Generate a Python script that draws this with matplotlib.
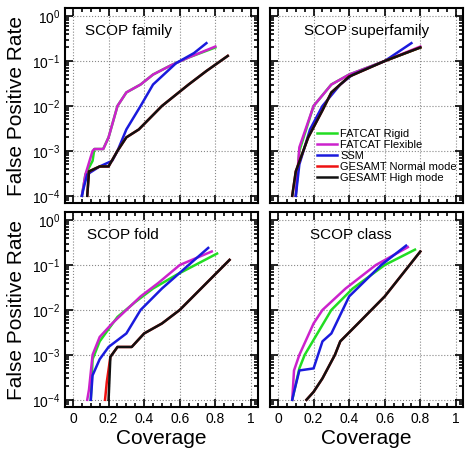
import matplotlib
matplotlib.use("Agg")
import matplotlib.pyplot as plt
from matplotlib.ticker import MultipleLocator, LogLocator, NullFormatter, FixedLocator, FuncFormatter

plt.rcParams['font.family'] = ['Liberation Sans', 'DejaVu Sans']

series_names = ["FATCAT Rigid", "FATCAT Flexible", "SSM", "GESAMT Normal mode", "GESAMT High mode"]
series_colors = ["#22dd22", "#cc22cc", "#1a1add", "#ee1111", "#111111"]
panel_titles = ["SCOP family", "SCOP superfamily", "SCOP fold", "SCOP class"]
x_ticks = [0, 0.2, 0.4, 0.6, 0.8, 1]
x_tick_labels = ['0', '0.2', '0.4', '0.6', '0.8', '1']

family = [
    ([0.05,0.07,0.11,0.12,0.17,0.2,0.25,0.3,0.38,0.45,0.55,0.65,0.8],[1e-4,3e-4,6e-4,1.1e-3,1.1e-3,2e-3,1e-2,2e-2,3e-2,5e-2,8e-2,0.12,0.2]),
    ([0.05,0.07,0.11,0.12,0.17,0.2,0.25,0.3,0.38,0.45,0.55,0.65,0.8],[1e-4,3e-4,1e-3,1.1e-3,1.1e-3,2e-3,1e-2,2e-2,3e-2,5e-2,8e-2,0.12,0.21]),
    ([0.05,0.06,0.08,0.15,0.22,0.25,0.3,0.38,0.45,0.58,0.68,0.75],[1e-4,1.5e-4,3e-4,4.5e-4,6e-4,1e-3,3e-3,1e-2,3e-2,9e-2,0.15,0.25]),
    ([0.08,0.09,0.15,0.2,0.25,0.3,0.37,0.5,0.65,0.75,0.87],[1e-4,3.5e-4,4.5e-4,4.5e-4,1e-3,2e-3,3e-3,1e-2,3e-2,6e-2,0.13]),
    ([0.08,0.09,0.15,0.2,0.25,0.3,0.37,0.5,0.65,0.75,0.87],[1e-4,3.5e-4,4.5e-4,4.5e-4,1e-3,2e-3,3e-3,1e-2,3e-2,6e-2,0.13]),
]
superfamily = [
    ([0.1,0.12,0.2,0.3,0.4,0.6,0.8],[1e-4,1e-3,1e-2,3e-2,5e-2,0.1,0.2]),
    ([0.1,0.12,0.2,0.3,0.4,0.6,0.8],[1e-4,1.2e-3,1e-2,3e-2,5e-2,0.1,0.21]),
    ([0.1,0.12,0.18,0.25,0.35,0.42,0.6,0.75],[1e-4,5e-4,3e-3,1e-2,3e-2,5e-2,0.1,0.25]),
    ([0.08,0.1,0.17,0.25,0.3,0.4,0.6,0.8],[1e-4,3.5e-4,2e-3,8e-3,2e-2,4.5e-2,0.1,0.2]),
    ([0.08,0.1,0.17,0.25,0.3,0.4,0.6,0.8],[1e-4,3.5e-4,2e-3,8e-3,2e-2,4.5e-2,0.1,0.2]),
]
fold = [
    ([0.1,0.11,0.15,0.25,0.35,0.45,0.58,0.81],[1e-4,8e-4,2e-3,7e-3,1.5e-2,3e-2,6e-2,0.18]),
    ([0.08,0.09,0.11,0.15,0.22,0.3,0.38,0.48,0.6,0.78],[1e-4,1.7e-4,1e-3,2.5e-3,5e-3,1e-2,2e-2,4e-2,0.1,0.2]),
    ([0.1,0.11,0.15,0.2,0.3,0.38,0.5,0.65,0.76],[1e-4,3.5e-4,8e-4,1.5e-3,3e-3,1e-2,3e-2,0.1,0.24]),
    ([0.18,0.19,0.21,0.25,0.33,0.4,0.5,0.6,0.72,0.88],[1e-4,2.5e-4,9e-4,1.5e-3,1.5e-3,3e-3,5e-3,1e-2,3e-2,0.13]),
    ([0.2,0.21,0.25,0.33,0.4,0.5,0.6,0.72,0.88],[1e-4,9e-4,1.5e-3,1.5e-3,3e-3,5e-3,1e-2,3e-2,0.13]),
]
klass = [
    ([0.08,0.12,0.15,0.3,0.42,0.6,0.77],[1e-4,5e-4,1e-3,1e-2,3e-2,0.1,0.22]),
    ([0.08,0.09,0.12,0.2,0.25,0.38,0.55,0.73],[1e-4,4.5e-4,1e-3,5e-3,1e-2,3e-2,0.1,0.25]),
    ([0.08,0.09,0.12,0.2,0.25,0.3,0.4,0.58,0.72],[1e-4,1.5e-4,4.5e-4,5e-4,2e-3,3e-3,2e-2,0.1,0.27]),
    ([0.16,0.2,0.25,0.32,0.35,0.45,0.6,0.8],[1e-4,1.5e-4,3e-4,1e-3,2e-3,5e-3,2e-2,0.2]),
    ([0.16,0.2,0.25,0.32,0.35,0.45,0.6,0.8],[1e-4,1.5e-4,3e-4,1e-3,2e-3,5e-3,2e-2,0.2]),
]
panels = [family, superfamily, fold, klass]

fig = plt.figure(figsize=(4.74, 4.58), dpi=100)
W, H = 474, 458
boxes = [(65, 8), (270, 8), (65, 212), (270, 212)]
title_x = [0.33, 0.5, 0.3, 0.42]
for i, (x0, y0) in enumerate(boxes):
    ax = fig.add_axes([x0 / W, 1 - (y0 + 195) / H, 193 / W, 195 / H])
    for (xs, ys), c, n in zip(panels[i], series_colors, series_names):
        ax.plot(xs, ys, color=c, lw=1.8, label=n)
    ax.set_yscale('log')
    ax.set_xlim(-0.045, 1.04)
    ax.set_ylim(10**-4.16, 10**0.18)
    ax.xaxis.set_major_locator(FixedLocator(x_ticks))
    ax.xaxis.set_minor_locator(MultipleLocator(0.05))
    ax.yaxis.set_major_locator(LogLocator(base=10, numticks=10))
    ax.yaxis.set_minor_locator(LogLocator(base=10, subs=range(2, 10), numticks=10))
    ax.yaxis.set_minor_formatter(NullFormatter())
    ax.grid(True, which='major', ls=':', color='#888888', lw=0.8)
    ax.tick_params(which='both', direction='in', top=True, right=True, width=1.2)
    ax.tick_params(which='major', length=6, labelsize=10)
    ax.tick_params(which='minor', length=3)
    for s in ax.spines.values():
        s.set_linewidth(1.5)
    ax.text(title_x[i], 0.86, panel_titles[i], transform=ax.transAxes, fontsize=11, ha='center')
    if i in (0, 1):
        ax.xaxis.set_major_formatter(NullFormatter())
    else:
        ax.xaxis.set_major_formatter(FuncFormatter(lambda v, p: x_tick_labels[x_ticks.index(round(v, 1))] if round(v, 1) in x_ticks else ''))
        ax.set_xlabel('Coverage', fontsize=15, labelpad=2)
    if i in (1, 3):
        ax.yaxis.set_major_formatter(NullFormatter())
    else:
        ax.set_ylabel('False Positive Rate', fontsize=15)
    if i == 1:
        ax.legend(loc='lower right', frameon=False, fontsize=8, handlelength=1.8,
                  handletextpad=0.3, labelspacing=0.1, bbox_to_anchor=(1.02, 0.05))

fig.savefig('out.png', dpi=100)
